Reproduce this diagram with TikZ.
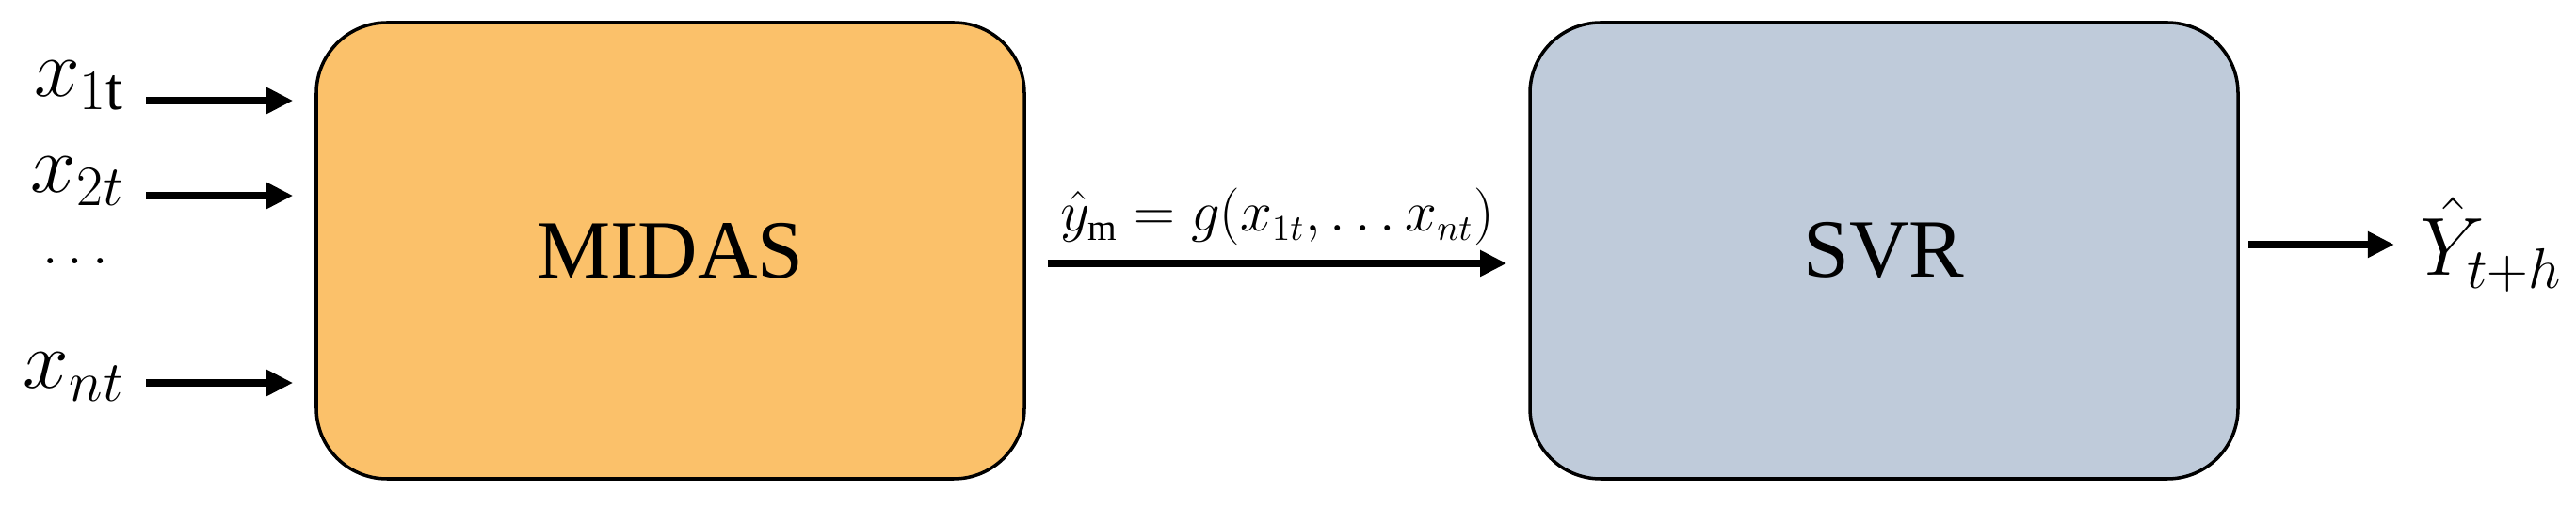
\documentclass[tikz,border=0pt]{standalone}
\usepackage{fontspec}
\setmainfont{Liberation Serif}
\usetikzlibrary{arrows.meta,calc}

\definecolor{midasorange}{HTML}{FBC16A}
\definecolor{svrgray}{HTML}{BFCBDA}

\begin{document}
\begin{tikzpicture}[
    box/.style={draw=black, line width=1pt, rounded corners=0.75cm,
        minimum width=7.52cm, minimum height=4.85cm,
        font=\fontsize{25}{30}\selectfont},
    arr/.style={line width=2.3pt, -{Triangle[length=8pt,width=7.5pt]}},
    lab/.style={inner sep=0pt, font=\fontsize{26}{30}\selectfont}
]

    \useasboundingbox (0,0) rectangle (27.36,5.40);

    % 绘制两个模块
    \node[box, fill=midasorange] (midas) at (7.12,2.735) {MIDAS};
    \node[box, fill=svrgray] (svr) at (20.01,2.735) {SVR};

    % 输入变量
    \node[lab, anchor=base east] (x1) at (1.33,4.37) {$x_{1\mathrm{t}}$};
    \node[lab, anchor=base east] (x2) at (1.33,3.35) {$x_{2t}$};
    \node[lab, font=\fontsize{16}{19}\selectfont] (dots) at (0.80,2.62) {$\ldots$};
    \node[lab, anchor=base east] (xn) at (1.33,1.27) {$x_{nt}$};

    % 输入箭头
    \coordinate (a1) at (1.55,4.33);
    \coordinate (a2) at (1.55,3.32);
    \coordinate (an) at (1.55,1.33);
    \draw[arr, shorten >=0.23cm] (a1) -- (a1 -| midas.west);
    \draw[arr, shorten >=0.23cm] (a2) -- (a2 -| midas.west);
    \draw[arr, shorten >=0.23cm] (an) -- (an -| midas.west);

    % 中间箭头及公式
    \draw[arr, shorten <=0.23cm, shorten >=0.23cm]
        ([yshift=-0.135cm]midas.east) -- ([yshift=-0.135cm]svr.west)
        node[midway, anchor=base, yshift=0.34cm, inner sep=0pt,
             font=\fontsize{16}{19}\selectfont] (gfun)
        {$\hat{y}_{\mathrm{m}} = g(x_{1t}, \ldots x_{nt})$};

    % 输出
    \node[lab, anchor=base west] (yhat) at (25.70,2.47) {$\hat{Y}_{t+h}$};
    \coordinate (out) at (23.88,2.80);
    \draw[arr, shorten >=0.27cm] (out) -- (out -| yhat.west);

\end{tikzpicture}
\end{document}
